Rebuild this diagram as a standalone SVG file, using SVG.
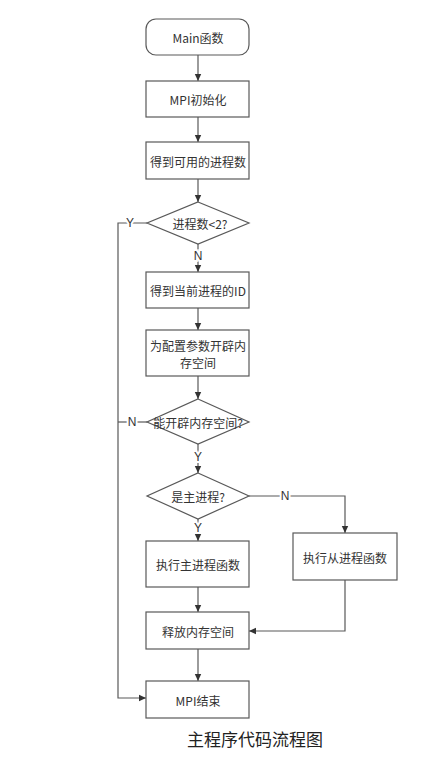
<svg xmlns="http://www.w3.org/2000/svg" width="446" height="762" viewBox="0 0 446 762">
<style>
.n{fill:#fff;stroke:#595959;stroke-width:1.2}
.t{font-family:"Noto Sans CJK SC","Liberation Sans",sans-serif;font-size:12px;fill:#333;text-anchor:middle;dominant-baseline:central}
.l{font-family:"Liberation Sans","Noto Sans CJK SC",sans-serif;font-size:12px;fill:#333;text-anchor:middle;dominant-baseline:central;stroke:#fff;stroke-width:4px;paint-order:stroke}
.c{fill:none;stroke:#595959;stroke-width:1.2;marker-end:url(#a)}
.cap{font-family:"Noto Sans CJK SC",serif;font-size:17px;fill:#222;text-anchor:middle}
</style>
<defs>
<marker id="a" markerWidth="8" markerHeight="8" refX="7" refY="4" orient="auto" markerUnits="userSpaceOnUse">
<path d="M0,0.8 L7,4 L0,7.2 Z" fill="#333"/>
</marker>
</defs>
<g id="connectors">
<path class="c" d="M198,55 V81"/>
<path class="c" d="M198,117 V142"/>
<path class="c" d="M198,179 V202"/>
<path class="c" d="M198,244 V272"/>
<path class="c" d="M198,308 V330"/>
<path class="c" d="M198,376 V399"/>
<path class="c" d="M198,444 V473"/>
<path class="c" d="M198,519 V541"/>
<path class="c" d="M249,496 H345 V533"/>
<path class="c" d="M198,587 V612"/>
<path class="c" d="M345,580 V631 H249"/>
<path class="c" d="M198,649 V681"/>
<path class="c" d="M147,223 H118 V698 H146"/>
<path fill="none" stroke="#595959" stroke-width="1.2" d="M147,422 H118"/>
<text class="l" x="130" y="223">Y</text>
<text class="l" x="198" y="256">N</text>
<text class="l" x="132" y="422">N</text>
<text class="l" x="198" y="457">Y</text>
<text class="l" x="198" y="528">Y</text>
<text class="l" x="285" y="496">N</text>
</g>
<g id="main"><rect class="n" x="146" y="19" width="103" height="36" rx="10"/><text class="t" x="198" y="37">Main函数</text></g>
<g id="init"><rect class="n" x="146" y="81" width="103" height="36"/><text class="t" x="198" y="99">MPI初始化</text></g>
<g id="getnum"><rect class="n" x="146" y="142" width="103" height="37"/><text class="t" x="198" y="161">得到可用的进程数</text></g>
<g id="d1"><polygon class="n" points="198,202 249,223 198,244 147,223"/><text class="t" x="200" y="223">进程数&lt;2?</text></g>
<g id="getid"><rect class="n" x="146" y="272" width="103" height="36"/><text class="t" x="198" y="290">得到当前进程的ID</text></g>
<g id="alloc"><rect class="n" x="146" y="330" width="103" height="46"/><text class="t" x="198" y="345">为配置参数开辟内</text><text class="t" x="198" y="362">存空间</text></g>
<g id="d2"><polygon class="n" points="198,399 249,422 198,444 147,422"/><text class="t" x="198" y="422">能开辟内存空间?</text></g>
<g id="d3"><polygon class="n" points="198,473 249,496 198,519 147,496"/><text class="t" x="198" y="496">是主进程?</text></g>
<g id="master"><rect class="n" x="146" y="541" width="103" height="46"/><text class="t" x="198" y="564">执行主进程函数</text></g>
<g id="slave"><rect class="n" x="293" y="533" width="104" height="47"/><text class="t" x="345" y="557">执行从进程函数</text></g>
<g id="free"><rect class="n" x="146" y="612" width="103" height="37"/><text class="t" x="198" y="631">释放内存空间</text></g>
<g id="end"><rect class="n" x="146" y="681" width="103" height="37"/><text class="t" x="198" y="700">MPI结束</text></g>
<text class="cap" x="255" y="746">主程序代码流程图</text>
</svg>
